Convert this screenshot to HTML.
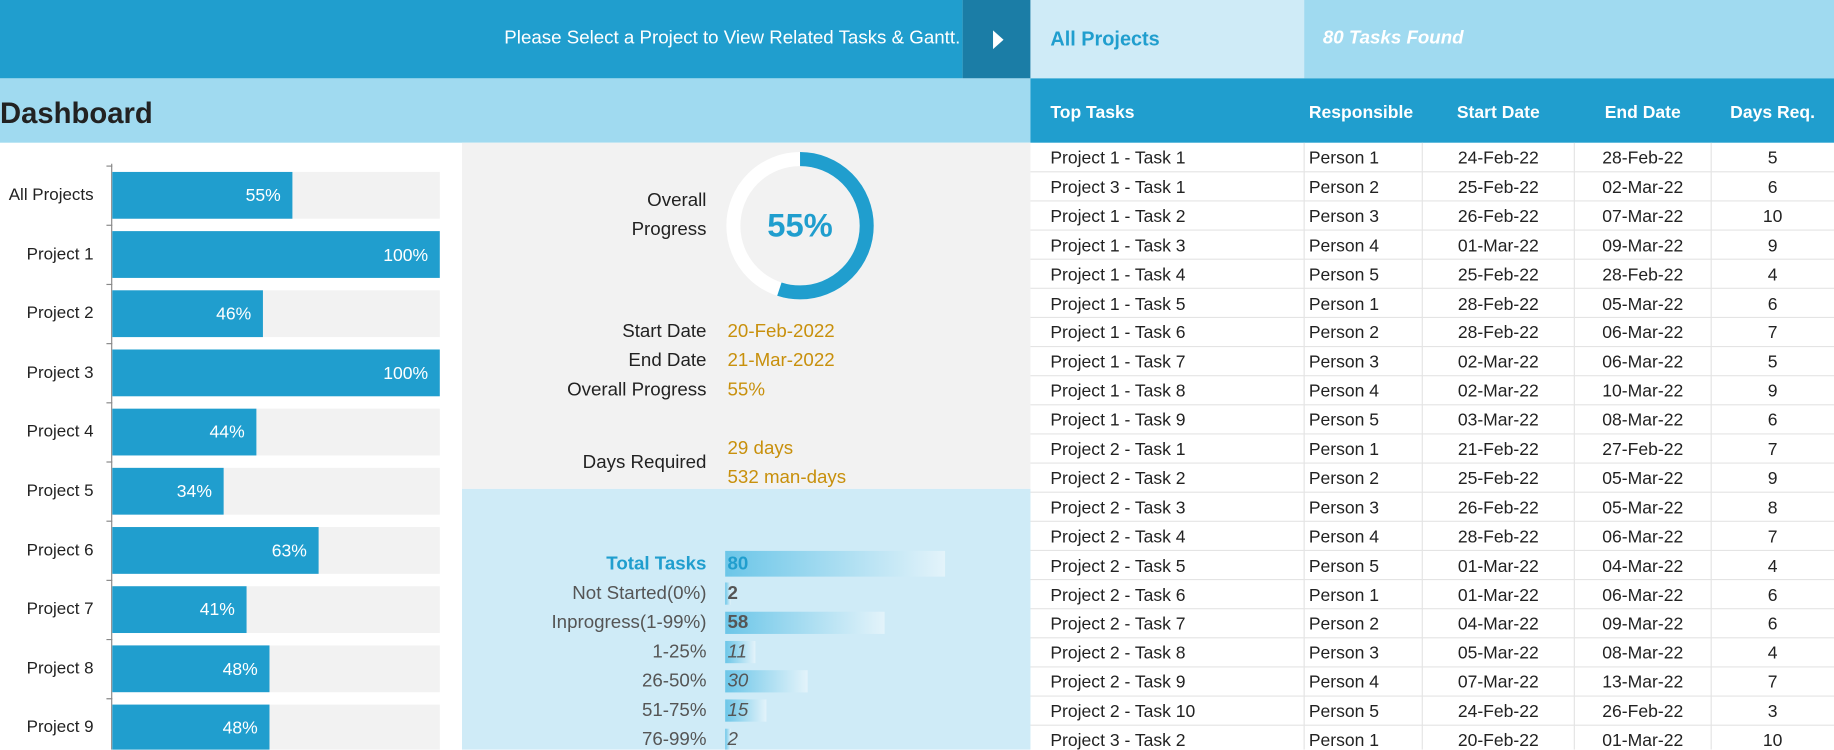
<!DOCTYPE html>
<html><head><meta charset="utf-8"><style>
body{margin:0;width:1834px;height:750px;overflow:hidden;background:#fff;font-family:"Liberation Sans",sans-serif}
#wrap{position:absolute;left:0;top:0;width:1568px;height:641px;transform:scale(1.16964);transform-origin:0 0;overflow:hidden}
.a{position:absolute}
.t{position:absolute;white-space:nowrap}
</style></head><body>
<div id="wrap">
<div class="a" style="left:0;top:0;width:823px;height:67px;background:#209ECE"></div>
<div class="t" style="right:747px;top:24px;color:#fff;font-size:16px">Please Select a Project to View Related Tasks &amp; Gantt.</div>
<div class="a" style="left:823px;top:0;width:58px;height:67px;background:#1B7DA6"><svg width="58" height="67"><polygon points="26,26 35,34 26,42" fill="#fff"/></svg></div>
<div class="a" style="left:881px;top:0;width:234px;height:67px;background:#CFEBF7"></div>
<div class="t" style="left:898px;top:24px;color:#209ECE;font-size:17px;font-weight:bold">All Projects</div>
<div class="a" style="left:1115px;top:0;width:453px;height:67px;background:#A0DAF0"></div>
<div class="t" style="left:1131px;top:24px;color:#fff;font-size:16px;font-weight:bold;font-style:italic">80 Tasks Found</div>
<div class="a" style="left:0;top:67px;width:881px;height:55px;background:#A0DAF0"></div>
<div class="t" style="left:0;top:83px;color:#222;font-size:25px;font-weight:bold">Dashboard</div>
<div class="a" style="left:881px;top:67px;width:687px;height:55px;background:#209ECE"></div>
<div class="a" style="left:395px;top:122px;width:486px;height:296px;background:#F2F2F2"></div>
<div class="a" style="left:395px;top:418px;width:486px;height:223px;background:#CFEBF7"></div>
<div class="a" style="left:95px;top:140px;width:1px;height:501px;background:#888"></div>
<svg class="a" style="left:0;top:0" width="1568" height="641" id="svg"></svg>
<div id="layer"></div>
</div>
<script>
const projects=["All Projects","Project 1","Project 2","Project 3","Project 4","Project 5","Project 6","Project 7","Project 8","Project 9"];
const progress=[55,100,46,100,44,34,63,41,48,48];
const statusLabels=["Total Tasks","Not Started(0%)","Inprogress(1-99%)","1-25%","26-50%","51-75%","76-99%"];
const statusCounts=[80,2,58,11,30,15,2];
const tasks=["Project 1 - Task 1","Project 3 - Task 1","Project 1 - Task 2","Project 1 - Task 3","Project 1 - Task 4","Project 1 - Task 5","Project 1 - Task 6","Project 1 - Task 7","Project 1 - Task 8","Project 1 - Task 9","Project 2 - Task 1","Project 2 - Task 2","Project 2 - Task 3","Project 2 - Task 4","Project 2 - Task 5","Project 2 - Task 6","Project 2 - Task 7","Project 2 - Task 8","Project 2 - Task 9","Project 2 - Task 10","Project 3 - Task 2"];
const persons=["Person 1","Person 2","Person 3","Person 4","Person 5","Person 1","Person 2","Person 3","Person 4","Person 5","Person 1","Person 2","Person 3","Person 4","Person 5","Person 1","Person 2","Person 3","Person 4","Person 5","Person 1"];
const starts=["24-Feb-22","25-Feb-22","26-Feb-22","01-Mar-22","25-Feb-22","28-Feb-22","28-Feb-22","02-Mar-22","02-Mar-22","03-Mar-22","21-Feb-22","25-Feb-22","26-Feb-22","28-Feb-22","01-Mar-22","01-Mar-22","04-Mar-22","05-Mar-22","07-Mar-22","24-Feb-22","20-Feb-22"];
const ends=["28-Feb-22","02-Mar-22","07-Mar-22","09-Mar-22","28-Feb-22","05-Mar-22","06-Mar-22","06-Mar-22","10-Mar-22","08-Mar-22","27-Feb-22","05-Mar-22","05-Mar-22","06-Mar-22","04-Mar-22","06-Mar-22","09-Mar-22","08-Mar-22","13-Mar-22","26-Feb-22","01-Mar-22"];
const daysReq=[5,6,10,9,4,6,7,5,9,6,7,9,8,7,4,6,6,4,7,3,10];
const overall=55;

const L=document.getElementById('layer'), S=document.getElementById('svg'), NS='http://www.w3.org/2000/svg';
function txt(s,x,y,css){const d=document.createElement('div');d.className='t';d.textContent=s;d.style.cssText+=`left:${x}px;top:${y}px;`+css;L.appendChild(d);return d;}
const bx=96,bw=280,by0=147,pitch=50.6,bh=40;
const xp=v=>bw*v/100;
projects.forEach((p,i)=>{
 const y=by0+i*pitch;
 const tr=document.createElementNS(NS,'rect');tr.setAttribute('x',bx);tr.setAttribute('y',y);tr.setAttribute('width',bw);tr.setAttribute('height',bh);tr.setAttribute('fill','#F2F2F2');
 
 S.appendChild(tr);
 const r=document.createElementNS(NS,'rect');r.setAttribute('x',bx);r.setAttribute('y',y);r.setAttribute('width',xp(progress[i]));r.setAttribute('height',bh);r.setAttribute('fill','#209ECE');
 
 S.appendChild(r);
 const tk=document.createElementNS(NS,'line');tk.setAttribute('x1',91);tk.setAttribute('x2',96);tk.setAttribute('y1',y-5);tk.setAttribute('y2',y-5);tk.setAttribute('stroke','#888');S.appendChild(tk);
 const lb=txt(p,0,y+12,'width:80px;text-align:right;font-size:14.5px;color:#222');
 
 
 const vl=txt(progress[i]+'%',bx,y+12,`width:${xp(progress[i])-10}px;text-align:right;font-size:15px;color:#fff`);
 
 
});
const cx=684,cy=193,rr=57;
const bg=document.createElementNS(NS,'circle');bg.setAttribute('cx',cx);bg.setAttribute('cy',cy);bg.setAttribute('r',rr);bg.setAttribute('fill','none');bg.setAttribute('stroke','#fff');bg.setAttribute('stroke-width',12);

S.appendChild(bg);
const arc=document.createElementNS(NS,'circle');const C=2*Math.PI*rr;
arc.setAttribute('cx',cx);arc.setAttribute('cy',cy);arc.setAttribute('r',rr);arc.setAttribute('fill','none');arc.setAttribute('stroke','#209ECE');arc.setAttribute('stroke-width',12);
arc.setAttribute('stroke-dasharray',`${C*overall/100} ${C}`);arc.setAttribute('transform',`rotate(-90 ${cx} ${cy})`);

S.appendChild(arc);
let d=txt(overall+'%',cx-50,cy-16,'width:100px;text-align:center;font-size:28px;font-weight:bold;color:#209ECE');


d=txt('Overall',404,163,'width:200px;text-align:right;font-size:16px;color:#222');


d=txt('Progress',404,188,'width:200px;text-align:right;font-size:16px;color:#222');


[["Start Date","20-Feb-2022",275],["End Date","21-Mar-2022",300],["Overall Progress","55%",325],["Days Required","29 days",375],["","532 man-days",400]].forEach(r=>{
 const a=txt(r[0],404,r[2]+(r[0]=="Days Required"?12:0),'width:200px;text-align:right;font-size:16px;color:#222');
 
 
 const b=txt(r[1],622,r[2],'font-size:16px;color:#C8900C');
 
 
});
const sx=620,sMax=80,sW=188,sy0=471,sp=25;
const xs=v=>sW*v/sMax;
const defs=document.createElementNS(NS,'defs');defs.innerHTML='<linearGradient id="g"><stop offset="0" stop-color="#6CC6E8"/><stop offset="1" stop-color="#E3F3FA"/></linearGradient>';S.appendChild(defs);
statusLabels.forEach((s,i)=>{
 const y=sy0+i*sp;
 const r=document.createElementNS(NS,'rect');r.setAttribute('x',sx);r.setAttribute('y',y+(i==0?0:2));r.setAttribute('width',Math.max(2,xs(statusCounts[i])));r.setAttribute('height',i==0?22:19);r.setAttribute('fill','url(#g)');
 
 S.appendChild(r);
 const lab=txt(s,404,y+3,`width:200px;text-align:right;font-size:16px;color:${i==0?'#209ECE':'#555'};${i==0?'font-weight:bold':''}`);
 
 
 const v=txt(statusCounts[i],622,y+3,`font-size:16px;color:${i==0?'#209ECE':'#555'};${i<3?'font-weight:bold':'font-style:italic'}`);
 
 
});
const cols=[[881,234,'left',17],[1115,101,'left',4],[1216,130,'center',0],[1346,117,'center',0],[1463,105,'center',0]];
["Top Tasks","Responsible","Start Date","End Date","Days Req."].forEach((h,i)=>{
 const c=cols[i];
 const e=txt(h,c[0]+(c[2]=='left'?c[3]:0),88,`width:${c[1]-(c[2]=='left'?c[3]:0)}px;text-align:${c[2]};font-size:15px;font-weight:bold;color:#fff`);
 
 
});
const rh=24.9,ry0=122;
tasks.forEach((t,i)=>{
 const y=ry0+i*rh;
 const ln=document.createElementNS(NS,'line');ln.setAttribute('x1',881);ln.setAttribute('x2',1568);ln.setAttribute('y1',y+rh);ln.setAttribute('y2',y+rh);ln.setAttribute('stroke','#E4E4E4');S.appendChild(ln);
 [t,persons[i],starts[i],ends[i],daysReq[i]].forEach((v,j)=>{
  const c=cols[j];
  const e=txt(v,c[0]+(c[2]=='left'?c[3]:0),y+5,`width:${c[1]-(c[2]=='left'?c[3]:0)}px;text-align:${c[2]};font-size:15px;color:#222`);
  
  
 });
});
[1115,1216,1346,1463].forEach(x=>{const ln=document.createElementNS(NS,'line');ln.setAttribute('x1',x);ln.setAttribute('x2',x);ln.setAttribute('y1',122);ln.setAttribute('y2',641);ln.setAttribute('stroke','#E4E4E4');S.appendChild(ln);});
</script>
</body></html>
